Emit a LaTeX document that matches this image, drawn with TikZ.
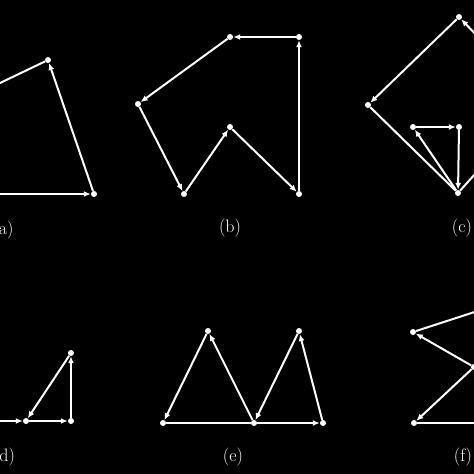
\documentclass[tikz,border=0pt]{standalone}
\usetikzlibrary{arrows.meta}

\tikzset{
    dot/.style = {circle, fill = white, inner sep = 0pt, minimum size = 6pt}, % вершина
    edge/.style = {draw = white, line width = 2pt, -{Latex[length = 7pt, width = 6pt]}}, % ребро со стрелкой
    plain/.style = {draw = white, line width = 2pt}, % ребро без стрелки
    lbl/.style = {text = white, font = \fontsize{18}{21}\selectfont} % подпись
}

\begin{document}
\begin{tikzpicture}[x = 1pt, y = -1pt]
    \fill [black] (0, 0) rectangle (474, 474); % фон
    \clip (0, 0) rectangle (474, 474);

    % (a)
    \node [dot] (a1) at (48, 60) {};
    \node [dot] (a2) at (94, 194) {};
    \coordinate (aL) at (-20, 92.6);
    \coordinate (aB) at (-20, 194);
    \draw [plain] (aL) -- (a1);
    \draw [edge] (a2) -- (a1);
    \draw [edge] (aB) -- (a2);
    \node [lbl] (la) at (3, 230) {(a)};

    % (b)
    \node [dot] (b1) at (230, 37) {};
    \node [dot] (b2) at (299, 37) {};
    \node [dot] (b3) at (138, 104) {};
    \node [dot] (b4) at (184, 194) {};
    \node [dot] (b5) at (230, 127) {};
    \node [dot] (b6) at (299, 194) {};
    \draw [edge] (b2) -- (b1);
    \draw [edge] (b1) -- (b3);
    \draw [edge] (b3) -- (b4);
    \draw [edge] (b4) -- (b5);
    \draw [edge] (b5) -- (b6);
    \draw [edge] (b6) -- (b2);
    \node [lbl] (lb) at (230, 228) {(b)};

    % (c)
    \node [dot] (c1) at (459, 17) {};
    \node [dot] (c2) at (368, 105) {};
    \node [dot] (c3) at (458, 193) {};
    \node [dot] (c4) at (413, 127) {};
    \node [dot] (c5) at (459, 127) {};
    \coordinate (cR1) at (484, 43);
    \coordinate (cR2) at (484, 164);
    \draw [edge] (cR1) -- (c1);
    \draw [edge] (c1) -- (c2);
    \draw [plain] (c2) -- (c3);
    \draw [edge] (c3) -- (c4);
    \draw [edge] (c4) -- (c5);
    \draw [edge] (c5) -- (c3);
    \draw [plain] (c3) -- (cR2);
    \node [lbl] (lc) at (462, 228) {(c)};

    % (d)
    \node [dot] (d1) at (71, 353) {};
    \node [dot] (d2) at (71, 421) {};
    \node [dot] (d3) at (26, 421) {};
    \coordinate (dL) at (-20, 421);
    \draw [edge] (dL) -- (d3);
    \draw [edge] (d3) -- (d2);
    \draw [edge] (d2) -- (d1);
    \draw [edge] (d1) -- (d3);
    \node [lbl] (ld) at (4, 457) {(d)};

    % (e)
    \node [dot] (e1) at (208, 331) {};
    \node [dot] (e2) at (299, 331) {};
    \node [dot] (e3) at (163, 423) {};
    \node [dot] (e4) at (254, 423) {};
    \node [dot] (e5) at (323, 423) {};
    \draw [edge] (e1) -- (e3);
    \draw [plain] (e3) -- (e4);
    \draw [edge] (e4) -- (e1);
    \draw [edge] (e2) -- (e4);
    \draw [edge] (e4) -- (e5);
    \draw [edge] (e5) -- (e2);
    \node [lbl] (le) at (233, 457) {(e)};

    % (f)
    \node [dot] (f1) at (413, 332) {};
    \node [dot] (f2) at (474, 367) {};
    \node [dot] (f3) at (414, 423) {};
    \coordinate (fR1) at (490, 307);
    \coordinate (fR2) at (490, 423);
    \draw [plain] (f1) -- (fR1);
    \draw [edge] (f2) -- (f1);
    \draw [edge] (f2) -- (f3);
    \draw [plain] (f3) -- (fR2);
    \node [lbl] (lf) at (463, 457) {(f)};
\end{tikzpicture}
\end{document}
